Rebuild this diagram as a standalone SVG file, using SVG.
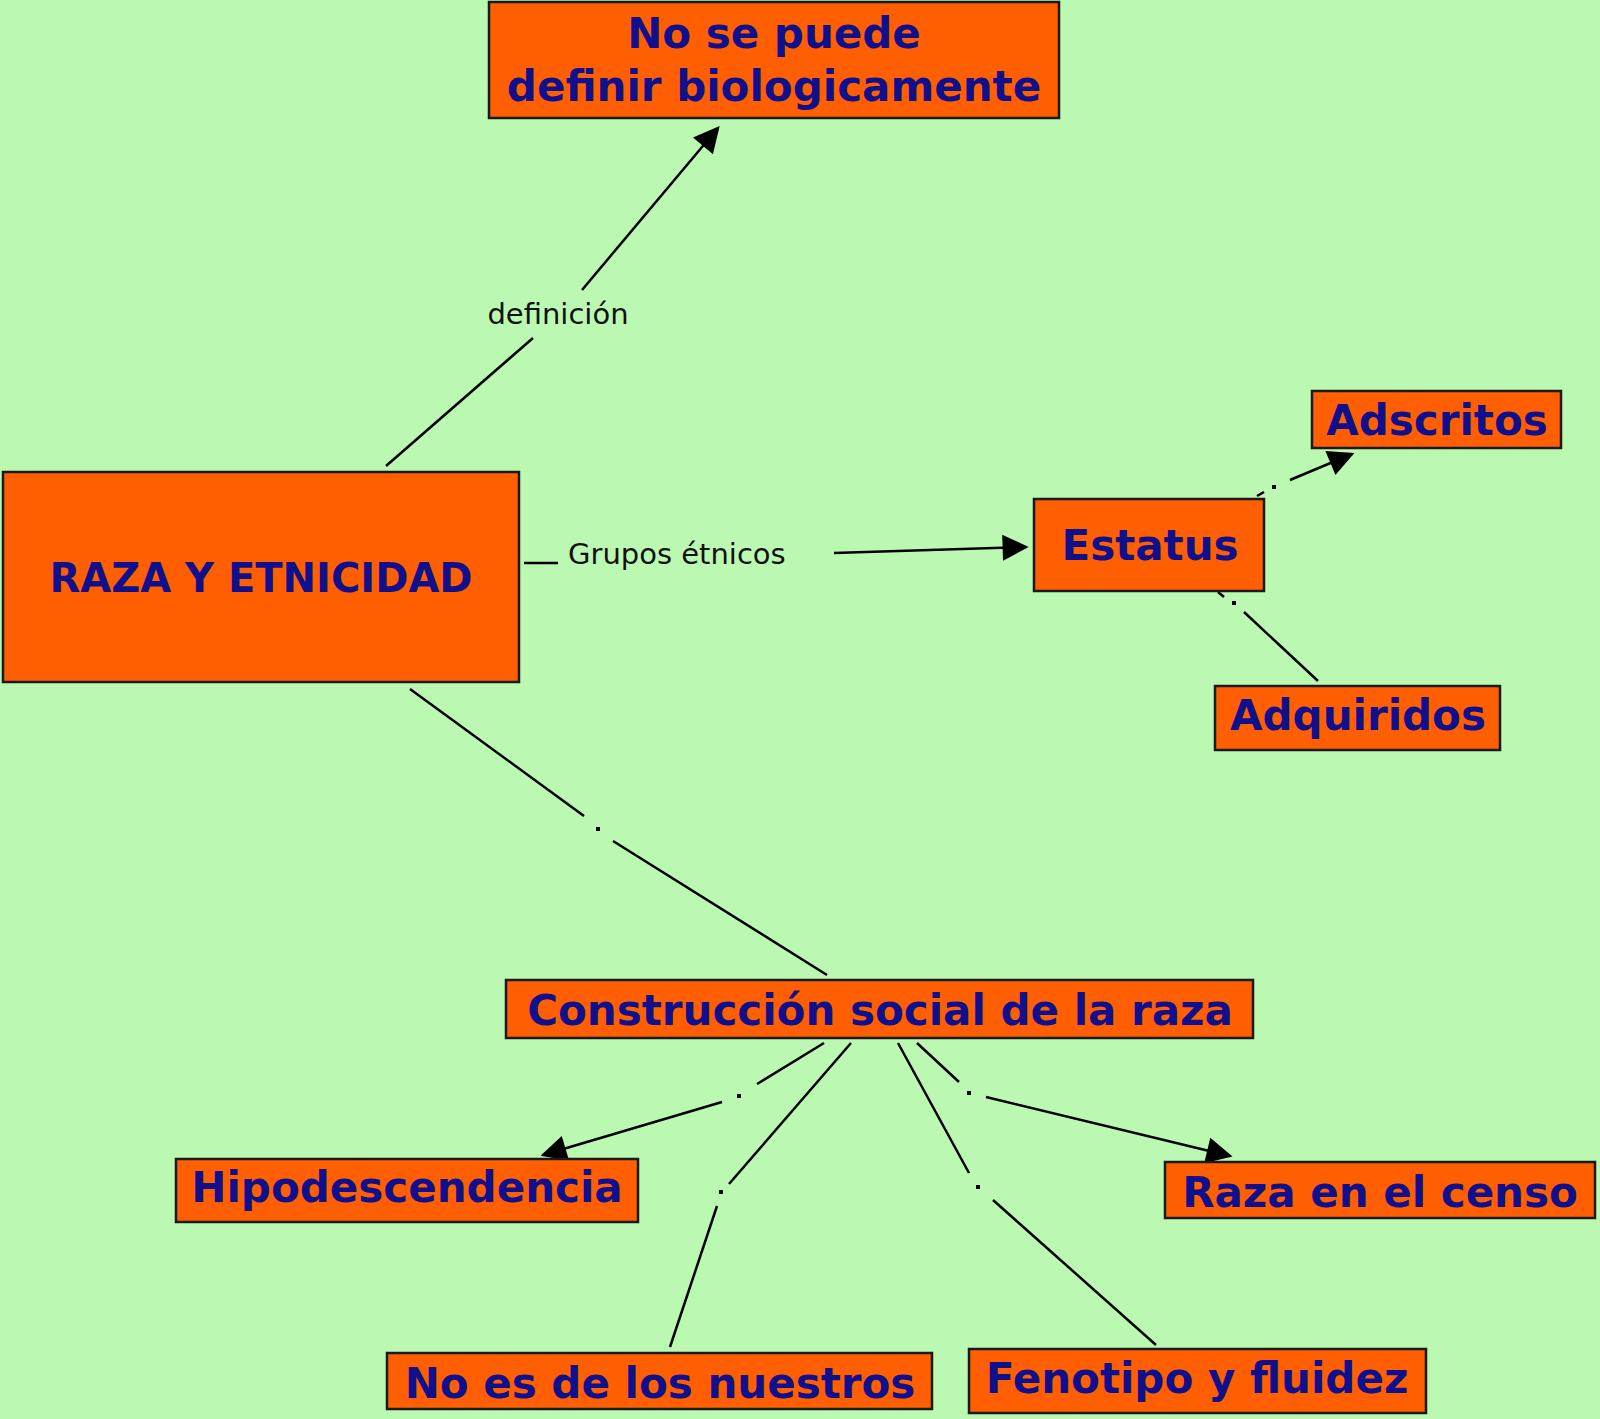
<svg xmlns="http://www.w3.org/2000/svg" width="1600" height="1419" viewBox="0 0 1600 1419">
<defs>
<style>
.b{fill:#ff5f00;stroke:#1a1a1a;stroke-width:2.5}
.t{font-family:"DejaVu Sans",Verdana,sans-serif;font-weight:bold;fill:#10108c;text-anchor:middle;dominant-baseline:central}
.l{font-family:"DejaVu Sans",Verdana,sans-serif;font-size:29px;fill:#111;dominant-baseline:central}
.c{stroke:#000;stroke-width:2.5;fill:none}
.d{fill:#000}
</style>
<marker id="a" viewBox="0 0 10 10" refX="10" refY="5" markerWidth="12" markerHeight="12" markerUnits="userSpaceOnUse" orient="auto"><path d="M0,0L10,5L0,10z"/></marker>
<marker id="A" viewBox="0 0 10 10" refX="9" refY="5" markerWidth="30" markerHeight="26" markerUnits="userSpaceOnUse" orient="auto"><path d="M0,0L10,5L0,10z" fill="#000"/></marker>
</defs>
<rect width="1600" height="1419" fill="#bbf9b3"/>
<g id="connectors">
<line class="c" x1="386" y1="466" x2="533" y2="338"/>
<line class="c" x1="582" y1="290" x2="718" y2="128" marker-end="url(#A)"/>
<text class="l" x="558" y="314" text-anchor="middle">definición</text>
<line class="c" x1="524" y1="563" x2="558" y2="563"/>
<text class="l" x="568" y="554">Grupos étnicos</text>
<line class="c" x1="834" y1="553" x2="1026" y2="547" marker-end="url(#A)"/>
<line class="c" x1="1257" y1="496" x2="1264" y2="492"/>
<rect class="d" x="1272" y="485" width="4" height="4"/>
<line class="c" x1="1290" y1="480" x2="1352" y2="454" marker-end="url(#A)"/>
<line class="c" x1="1218" y1="592" x2="1224" y2="597"/>
<rect class="d" x="1232" y="601" width="4" height="4"/>
<line class="c" x1="1244" y1="612" x2="1318" y2="681"/>
<line class="c" x1="410" y1="689" x2="584" y2="816"/>
<rect class="d" x="596" y="827" width="4" height="4"/>
<line class="c" x1="613" y1="841" x2="827" y2="975"/>
<line class="c" x1="824" y1="1043" x2="757" y2="1084"/>
<rect class="d" x="737" y="1094" width="4" height="4"/>
<line class="c" x1="722" y1="1102" x2="543" y2="1155" marker-end="url(#A)"/>
<line class="c" x1="851" y1="1043" x2="729" y2="1184"/>
<rect class="d" x="719" y="1190" width="4" height="4"/>
<line class="c" x1="717" y1="1206" x2="670" y2="1347"/>
<line class="c" x1="898" y1="1043" x2="969" y2="1173"/>
<rect class="d" x="976" y="1185" width="4" height="4"/>
<line class="c" x1="993" y1="1200" x2="1156" y2="1345"/>
<line class="c" x1="917" y1="1043" x2="959" y2="1082"/>
<rect class="d" x="967" y="1091" width="4" height="4"/>
<line class="c" x1="986" y1="1097" x2="1230" y2="1156" marker-end="url(#A)"/>
</g>
<g id="n-top"><rect class="b" x="489" y="2" width="570" height="116"/><text class="t" x="774" y="33" font-size="42">No se puede</text><text class="t" x="774" y="86" font-size="42">definir biologicamente</text></g>
<g id="n-raza"><rect class="b" x="3" y="472" width="516" height="210"/><text class="t" x="261" y="578" font-size="40">RAZA Y ETNICIDAD</text></g>
<g id="n-estatus"><rect class="b" x="1034" y="499" width="230" height="92"/><text class="t" x="1150" y="545" font-size="42">Estatus</text></g>
<g id="n-adscritos"><rect class="b" x="1312" y="391" width="249" height="57"/><text class="t" x="1437" y="420" font-size="42">Adscritos</text></g>
<g id="n-adquiridos"><rect class="b" x="1215" y="686" width="285" height="64"/><text class="t" x="1358" y="715" font-size="42">Adquiridos</text></g>
<g id="n-construccion"><rect class="b" x="506" y="980" width="747" height="58"/><text class="t" x="880" y="1010" font-size="42">Construcción social de la raza</text></g>
<g id="n-hipo"><rect class="b" x="176" y="1159" width="462" height="63"/><text class="t" x="407" y="1187" font-size="42">Hipodescendencia</text></g>
<g id="n-censo"><rect class="b" x="1165" y="1162" width="430" height="56"/><text class="t" x="1380" y="1192" font-size="42">Raza en el censo</text></g>
<g id="n-nuestros"><rect class="b" x="387" y="1353" width="545" height="56"/><text class="t" x="660" y="1383" font-size="42">No es de los nuestros</text></g>
<g id="n-fenotipo"><rect class="b" x="969" y="1349" width="457" height="64"/><text class="t" x="1197" y="1378" font-size="42">Fenotipo y fluidez</text></g>
</svg>
